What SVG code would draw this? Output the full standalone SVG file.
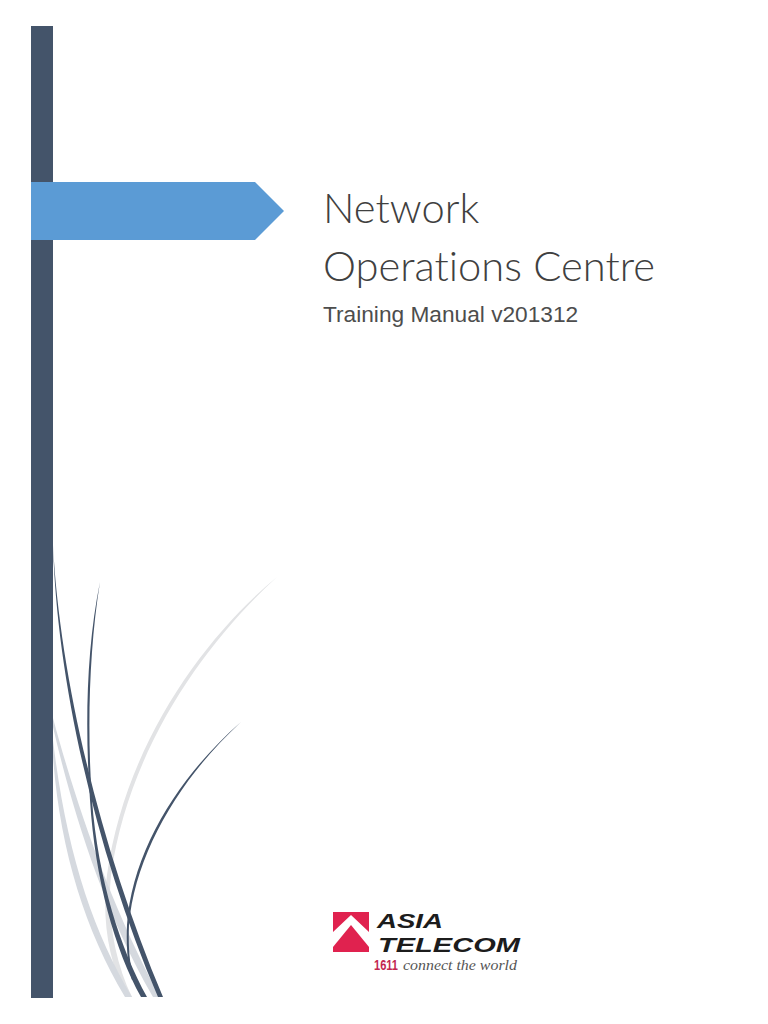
<svg xmlns="http://www.w3.org/2000/svg" width="768" height="1024" viewBox="0 0 768 1024">
<style>
.dk{fill:#44546a}
.lg{fill:#d5d9df}
.vl{fill:#e2e3e5}
.t{font-family:"Lato","Open Sans",sans-serif;font-size:41.7px;fill:#404040;font-weight:300;font-variant-ligatures:none}
.l{font-family:"Liberation Sans",Arial,sans-serif;font-size:21px;font-weight:700;font-style:italic;fill:#1c1c1c}
</style>
<rect width="768" height="1024" fill="#fff"/>
<g id="sidebar"><rect x="31" y="26" width="22" height="972" fill="#44546a"/></g>
<g id="curves">
<path class="vl" d="M277 577C204 637 125 745 107 875C102 915 107 960 127 997L132 997C114 960 107 915 111 875C129 747 206 642 277 577Z"/>
<path class="lg" d="M53 727C70 800 100 905 153 997L160 997C110 905 75 800 53 718Z"/>
<path class="lg" d="M53 757C60 850 85 930 125 997L132 997C92 930 66 850 53 740Z"/>
<path class="dk" d="M100 582C86 650 85 730 90 800C95 880 115 950 141 997L147 997C121 950 98 880 92 800C87 730 89 650 100 582Z"/>
<path class="dk" d="M53 545C57 680 95 850 158 997L163 997C101 850 60 680 53 545Z"/>
<path class="dk" d="M241 722C180 775 132 850 127 925C126 950 128 965 132 980L134 980C130 965 128 950 129 925C135 852 182 776 241 722Z"/>
</g>
<g id="banner"><polygon points="31,182 255,182 284,211 255,240 31,240" fill="#5b9bd5"/></g>
<g id="title">
<text class="t" x="323" y="223">Network</text>
<text class="t" x="323" y="281">Operations Centre</text>
<text x="323" y="322" font-family="Liberation Sans,Arial,sans-serif" font-size="22.7" fill="#4d4d4d">Training Manual v201312</text>
</g>
<g id="logo">
<polygon points="333,912 369,912 369,932 351,915 333,932" fill="#e0224f"/>
<polygon points="351,925 369,947 369,952 333,952 333,947" fill="#e0224f"/>
<text class="l" x="377" y="928" textLength="66" lengthAdjust="spacingAndGlyphs">ASIA</text>
<text class="l" x="378" y="952" textLength="142" lengthAdjust="spacingAndGlyphs">TELECOM</text>
<text x="374" y="970" font-family="Liberation Sans,Arial,sans-serif" font-size="14" font-weight="700" fill="#c2264f" textLength="24" lengthAdjust="spacingAndGlyphs">1611</text>
<text x="403" y="970" font-family="Liberation Serif,serif" font-size="15" font-style="italic" fill="#555" textLength="114" lengthAdjust="spacingAndGlyphs">connect the world</text>
</g>
</svg>
